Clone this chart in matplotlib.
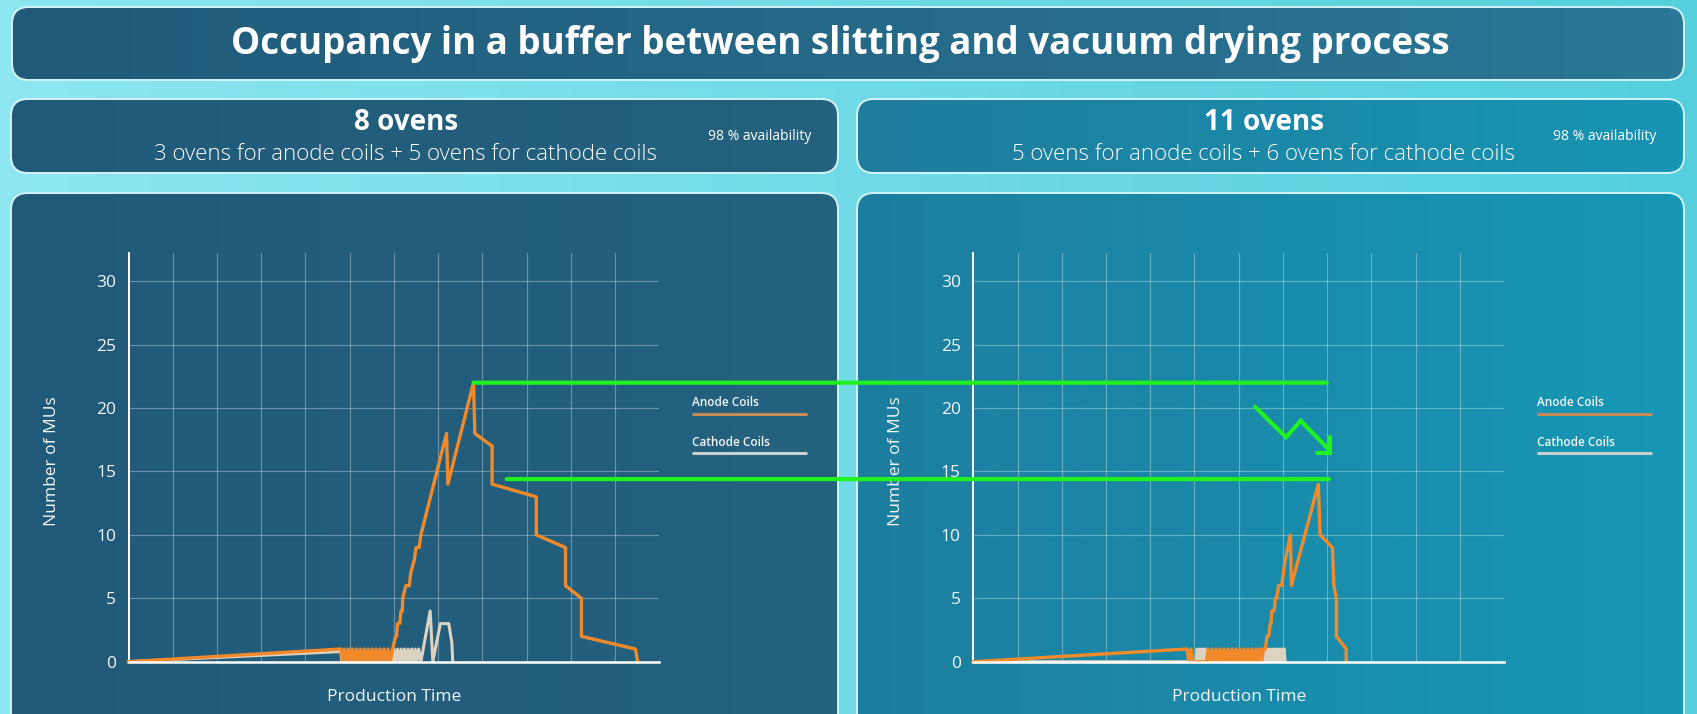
import numpy as np
import matplotlib
matplotlib.use("Agg")
import matplotlib.pyplot as plt
from matplotlib.patches import FancyBboxPatch, ConnectionPatch
from matplotlib.colors import LinearSegmentedColormap

plt.rcParams['font.family'] = ['Open Sans', 'DejaVu Sans']

# ---------------- texts ----------------
title = "Occupancy in a buffer between slitting and vacuum drying process"
panel_titles = ["8 ovens", "11 ovens"]
panel_subtitles = ["3 ovens for anode coils + 5 ovens for cathode coils",
                   "5 ovens for anode coils + 6 ovens for cathode coils"]
availability = "98 % availability"
series_names = ["Anode Coils", "Cathode Coils"]
x_label = "Production Time"
y_label = "Number of MUs"
y_ticks = [0, 5, 10, 15, 20, 25, 30]
x_grid = [1, 2, 3, 4, 5, 6, 7, 8, 9, 10, 11]

# ---------------- data: 8 ovens ----------------
left_anode_x = [0, 4.80, 4.84, 4.88, 4.93, 4.97, 5.02, 5.06, 5.11, 5.15, 5.20, 5.24, 5.29, 5.33,
                5.38, 5.42, 5.47, 5.51, 5.56, 5.60, 5.65, 5.69, 5.74, 5.78, 5.83, 5.87, 5.92, 5.97,
                6.04, 6.06, 6.08, 6.13, 6.16, 6.19, 6.20, 6.27, 6.35, 6.38, 6.46, 6.50, 6.57, 6.61,
                7.19, 7.22, 7.80, 7.83, 8.22, 8.22, 9.22, 9.22, 9.88, 9.88, 10.24, 10.24, 11.46, 11.51]
left_anode_y = [0, 1, 0, 1, 0, 1, 0, 1, 0, 1, 0, 1, 0, 1,
                0, 1, 0, 1, 0, 1, 0, 1, 0, 1, 0, 1, 0, 1,
                2, 2, 3, 3, 4, 4, 5, 6, 6, 7, 8, 9, 9, 10,
                18, 14, 22, 18, 17, 14, 13, 10, 9, 6, 5, 2, 1, 0]
left_cathode_x = [0, 4.80, 4.82, 5.97, 6.00, 6.04, 6.08, 6.12, 6.16, 6.20, 6.24, 6.28, 6.32, 6.36,
                  6.40, 6.44, 6.48, 6.52, 6.56, 6.61, 6.82, 6.88, 7.05, 7.24, 7.31, 7.33]
left_cathode_y = [0, 0.8, 0, 0, 1, 0, 1, 0, 1, 0, 1, 0, 1, 0,
                  1, 0, 1, 0, 1, 0, 4, 0, 3, 3, 1.5, 0]

# ---------------- data: 11 ovens ----------------
right_anode_x = [0, 4.83, 4.87, 4.92, 4.97, 5.01, 5.27, 5.31, 5.35, 5.40, 5.44, 5.49, 5.53, 5.58,
                 5.62, 5.67, 5.71, 5.76, 5.80, 5.85, 5.89, 5.94, 5.98, 6.03, 6.07, 6.12, 6.16, 6.21,
                 6.25, 6.30, 6.34, 6.39, 6.43, 6.48, 6.52, 6.56, 6.60, 6.64, 6.68, 6.71, 6.73, 6.75,
                 6.80, 6.83, 6.86, 6.90, 6.97, 7.01, 7.05, 7.17, 7.19, 7.80, 7.84, 8.12, 8.15, 8.21,
                 8.21, 8.43, 8.43]
right_anode_y = [0, 1, 0, 1, 0, 0, 0, 1, 0, 1, 0, 1, 0, 1,
                 0, 1, 0, 1, 0, 1, 0, 1, 0, 1, 0, 1, 0, 1,
                 0, 1, 0, 1, 0, 1, 0, 1, 1, 2, 2, 3, 3, 4,
                 4, 5, 5, 6, 6, 7, 8, 10, 6, 14, 10, 9, 6, 5,
                 2, 1, 0]
right_cathode_x = [0, 5.04, 5.06, 5.09, 5.12, 5.15, 5.18, 5.21, 5.24, 5.27, 6.56, 6.58, 6.61, 6.64,
                   6.67, 6.70, 6.73, 6.76, 6.79, 6.82, 6.85, 6.88, 6.91, 6.94, 6.97, 7.00, 7.03, 7.05]
right_cathode_y = [0, 0, 1, 0, 1, 0, 1, 0, 1, 0, 0, 1, 0, 1,
                   0, 1, 0, 1, 0, 1, 0, 1, 0, 1, 0, 1, 1, 0]

# ---------------- green annotation ----------------
upper_level = 22
lower_level = 14.4
upper_start_x, upper_end_x = 7.80, 7.99
lower_start_x, lower_end_x = 8.55, 8.04
arrow_x = [6.37, 7.07, 7.40, 8.03]
arrow_y = [20.1, 17.7, 19.0, 16.75]
head_x = [7.76, 8.07, 8.07]
head_y = [16.48, 16.48, 17.74]

# ---------------- style ----------------
W, H, DPI = 1697, 714, 100
ORANGE = "#f28a2a"
BEIGE = "#ddd3c2"
GREEN = "#1ff21f"
TXT = "#f3f7f9"

fig = plt.figure(figsize=(W / DPI, H / DPI), dpi=DPI)
bg = fig.add_axes([0, 0, 1, 1], zorder=0)
bg.set_xlim(0, W)
bg.set_ylim(H, 0)
bg.axis("off")


def gradient(ax, x0, y0, w, h, c1, c2, clip=None, z=1):
    cmap = LinearSegmentedColormap.from_list("g", [c1, c2])
    im = ax.imshow(np.linspace(0, 1, 256)[None, :], extent=(x0, x0 + w, y0 + h, y0),
                   cmap=cmap, aspect="auto", zorder=z, interpolation="bilinear")
    if clip is not None:
        im.set_clip_path(clip)
    return im


def rbox(ax, x0, y0, w, h, c1, c2, r=17):
    p = FancyBboxPatch((x0, y0), w, h, boxstyle=f"round,pad=0,rounding_size={r}",
                       fc="none", ec="#d3f4f8", lw=1.4, zorder=3)
    ax.add_patch(p)
    gradient(ax, x0, y0, w, h, c1, c2, clip=p, z=2)


gradient(bg, 0, 0, W, H, "#8ce7f1", "#55cfdc", z=0)
rbox(bg, 12, 7, 1672, 73, "#215a79", "#2a7797")
rbox(bg, 11, 99, 827, 74, "#215a79", "#24627f")
rbox(bg, 857, 99, 827, 74, "#1f7c9d", "#1795b3")
rbox(bg, 11, 193, 827, 560, "#215a79", "#24627f")
rbox(bg, 857, 193, 827, 560, "#1d7e9f", "#1798b6")

bg.text(840, 54, title, color="white", fontsize=26.5, fontweight="bold",
        ha="center", va="baseline", zorder=5)
for cx, avx, t, s in [(406, 708, panel_titles[0], panel_subtitles[0]),
                      (1264, 1553, panel_titles[1], panel_subtitles[1])]:
    bg.text(cx, 130.5, t, color="white", fontsize=20, fontweight="bold",
            ha="center", va="baseline", zorder=5)
    bg.text(cx, 159.5, s, color="white", fontsize=16, fontweight="light",
            ha="center", va="baseline", zorder=5)
    bg.text(avx, 140, availability, color="white", fontsize=10,
            ha="left", va="baseline", zorder=5)

# legends (drawn as text + line next to each chart)
for lx in (692.3, 1537.3):
    for k, (name, col, base) in enumerate([(series_names[0], "#c58a55", 406.5),
                                           (series_names[1], "#c9cfcb", 445.5)]):
        bg.text(lx, base, name, color=TXT, fontsize=8.5, fontweight="semibold",
                ha="left", va="baseline", zorder=5)
        bg.plot([lx, lx + 114.4], [base + 7.2, base + 7.2], color=col, lw=2.2,
                solid_capstyle="butt", zorder=5)


def make_axes(left_px):
    ax = fig.add_axes([left_px / W, 1 - 661.7 / H, 530.8 / W, 409.0 / H], zorder=2)
    ax.set_facecolor("none")
    ax.set_xlim(0, 12)
    ax.set_ylim(0, 32.25)
    for s in ("top", "right"):
        ax.spines[s].set_visible(False)
    ax.spines["left"].set_color("white")
    ax.spines["left"].set_linewidth(1.4)
    ax.spines["bottom"].set_color("white")
    ax.spines["bottom"].set_linewidth(1.8)
    ax.spines["bottom"].set_zorder(6)
    ax.set_xticks(x_grid)
    ax.set_yticks(y_ticks)
    ax.tick_params(length=0, labelbottom=False, labelsize=12.5, labelcolor=TXT, pad=9)
    for lbl in ax.get_yticklabels():
        lbl.set_fontweight("medium")
    ax.grid(True, color="white", alpha=0.33, lw=0.8)
    ax.set_axisbelow(True)
    ax.set_xlabel(x_label, color=TXT, fontsize=12.5, va="baseline")
    ax.xaxis.set_label_coords(0.5, -0.096)
    ax.set_ylabel(y_label, color=TXT, fontsize=12.5, va="center")
    ax.yaxis.set_label_coords(-0.1449, 0.49)
    return ax


axL = make_axes(128.5)
axR = make_axes(973.3)

for ax, cx, cy, ax_, ay_ in [(axL, left_cathode_x, left_cathode_y, left_anode_x, left_anode_y),
                             (axR, right_cathode_x, right_cathode_y, right_anode_x, right_anode_y)]:
    ax.plot(cx, cy, color=BEIGE, lw=2.2, clip_on=False, zorder=3, label=series_names[1])
    ax.plot(ax_, ay_, color=ORANGE, lw=2.4, clip_on=False, zorder=4, label=series_names[0])

for (xa, xb, lev) in [(upper_start_x, upper_end_x, upper_level),
                      (lower_start_x, lower_end_x, lower_level)]:
    con = ConnectionPatch(xyA=(xa, lev), coordsA=axL.transData,
                          xyB=(xb, lev), coordsB=axR.transData,
                          color=GREEN, lw=3.0, capstyle="round", zorder=10)
    fig.add_artist(con)

axR.plot(arrow_x, arrow_y, color=GREEN, lw=3.0, clip_on=False, zorder=8,
         solid_capstyle="round", solid_joinstyle="miter")
axR.plot(head_x, head_y, color=GREEN, lw=3.0, clip_on=False, zorder=8,
         solid_capstyle="round", solid_joinstyle="miter")

fig.savefig("out.png", dpi=DPI)
